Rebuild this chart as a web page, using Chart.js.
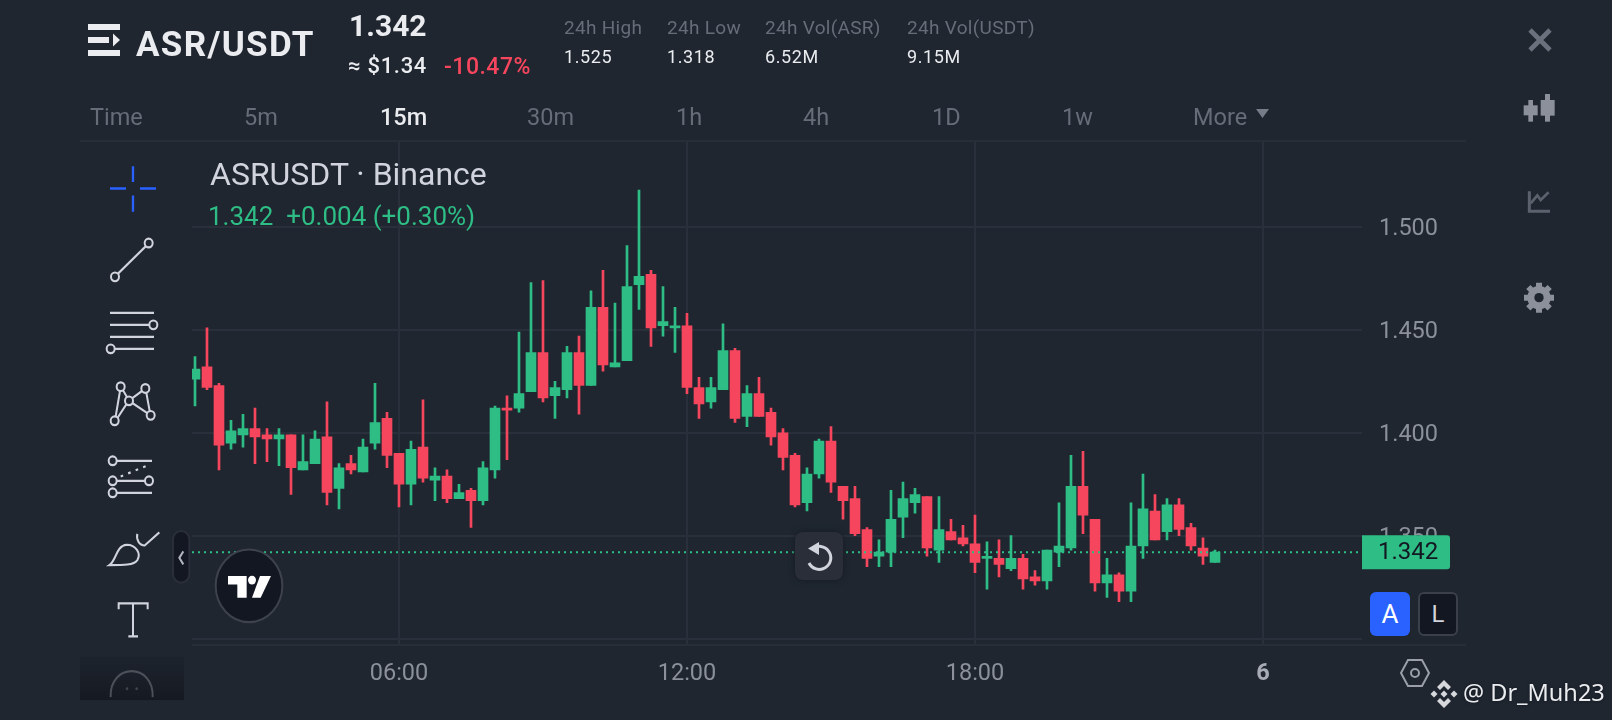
<!DOCTYPE html>
<html>
<head>
<meta charset="utf-8">
<title>ASR/USDT</title>
<script src="https://cdn.jsdelivr.net/npm/chart.js@4"></script>
<style>
  html, body { margin: 0; padding: 0; background: #1f2630; }
  body { width: 1612px; height: 720px; position: relative; overflow: hidden; font-family: Roboto, sans-serif; }
  #chart { position: absolute; left: 0; top: 0; width: 1612px; height: 720px; }
  .t { position: absolute; white-space: nowrap; line-height: 1; }
  .label { font-size: 19px; color: #666d79; letter-spacing: 0.3px; }
  .val { font-size: 18px; color: #eaecef; letter-spacing: 0.6px; }
  .tab { font-size: 23.5px; color: #666d79; top: 106px; }
  svg.layer { position: absolute; overflow: visible; }
  .rule { position: absolute; height: 2px; background: #282e38; }
</style>
</head>
<body>
<canvas id="chart" width="1612" height="720"></canvas>

<div class="rule" style="left:80px;width:1386px;top:140px"></div>
<div class="rule" style="left:192px;width:1274px;top:644px"></div>

<!-- header -->
<svg class="layer" style="left:88px;top:24px" width="32" height="32" viewBox="0 0 32 32">
  <rect x="0" y="0" width="32" height="6" fill="#eaecef"/>
  <rect x="0" y="13" width="21" height="6" fill="#eaecef"/>
  <polygon points="25,9.5 32,16 25,22.5" fill="#eaecef"/>
  <rect x="0" y="26" width="32" height="6" fill="#eaecef"/>
</svg>
<div class="t" style="left:136px;top:27px;font-size:35px;font-weight:700;letter-spacing:1.3px;color:#eaecef">ASR/USDT</div>
<div class="t" style="left:349px;top:11px;font-size:30px;font-weight:700;color:#eaecef">1.342</div>
<div class="t" style="left:348px;top:55px;font-size:22px;font-weight:500;letter-spacing:0.7px;color:#eaecef">≈ $1.34</div>
<div class="t" style="left:444px;top:55px;font-size:23px;font-weight:500;letter-spacing:0.5px;color:#f6465d">-10.47%</div>
<div class="t label" style="left:564px;top:18px">24h High</div>
<div class="t val" style="left:564px;top:48px">1.525</div>
<div class="t label" style="left:667px;top:18px">24h Low</div>
<div class="t val" style="left:667px;top:48px">1.318</div>
<div class="t label" style="left:765px;top:18px">24h Vol(ASR)</div>
<div class="t val" style="left:765px;top:48px">6.52M</div>
<div class="t label" style="left:907px;top:18px">24h Vol(USDT)</div>
<div class="t val" style="left:907px;top:48px">9.15M</div>

<!-- interval tabs -->
<div class="t tab" style="left:90px">Time</div>
<div class="t tab" style="left:244px">5m</div>
<div class="t tab" style="left:380px;color:#eaecef;font-weight:500">15m</div>
<div class="t tab" style="left:527px">30m</div>
<div class="t tab" style="left:676px">1h</div>
<div class="t tab" style="left:803px">4h</div>
<div class="t tab" style="left:932px">1D</div>
<div class="t tab" style="left:1062px">1w</div>
<div class="t tab" style="left:1193px">More</div>
<svg class="layer" style="left:1256px;top:109px" width="14" height="10"><polygon points="0,0 13,0 6.5,9" fill="#767c88"/></svg>

<!-- chart legend -->
<div class="t" style="left:210px;top:158px;font-size:32px;color:#d1d4dc">ASRUSDT · Binance</div>
<div class="t" style="left:208px;top:203px;font-size:26px;color:#2ebd85">1.342&nbsp; +0.004 (+0.30%)</div>

<!-- drawing tools, traced from a crop of 660x1568 -->
<svg class="layer" style="left:80px;top:150px" width="220" height="570" viewBox="0 0 660 1568" preserveAspectRatio="none" fill="none" stroke="#d1d4dc" stroke-width="6">
  <defs>
    <linearGradient id="fade" x1="0" y1="0" x2="0" y2="1">
      <stop offset="0" stop-color="#1d232d"/><stop offset="1" stop-color="#151a22"/>
    </linearGradient>
  </defs>
  <g stroke="#2962ff" stroke-width="7">
    <path d="M90 106H138M180 106H228M159 45V88M159 125V170"/>
  </g>
  <circle cx="206" cy="256" r="12"/><circle cx="105" cy="349" r="12"/><path d="M114 340L197 265"/>
  <path d="M90 448H222M90 481H208M90 514H222M105 547H222"/><circle cx="220" cy="481" r="12"/><circle cx="92" cy="547" r="12"/>
  <circle cx="122" cy="651" r="12"/><circle cx="196" cy="656" r="12"/><circle cx="147" cy="690" r="12"/><circle cx="104" cy="745" r="12"/><circle cx="212" cy="730" r="12"/>
  <path d="M120 663L107 733M129 661L141 680M156 683L186 663M199 668L209 718M157 696L202 724M139 700L113 736"/>
  <path d="M110 855H216M110 910H195M110 943H216"/><circle cx="98" cy="855" r="12"/><circle cx="98" cy="910" r="12"/><circle cx="207" cy="910" r="12"/><circle cx="98" cy="943" r="12"/>
  <path d="M122 898L210 865" stroke-dasharray="8 16"/>
  <path d="M88 1142C110 1128 108 1088 140 1086C168 1086 184 1110 172 1128C162 1142 130 1142 88 1142Z"/>
  <path d="M172 1056C168 1072 178 1088 194 1088L238 1052"/>
  <path d="M116 1263V1247H203V1263M159 1247V1338M145 1338H174"/>
  <rect x="0" y="1395" width="312" height="118" fill="url(#fade)" stroke="none"/>
  <path d="M92 1505C88 1410 222 1410 218 1505" stroke="#4b5059"/>
  <circle cx="141" cy="1482" r="4" fill="#3f444d" stroke="none"/><circle cx="170" cy="1482" r="4" fill="#3f444d" stroke="none"/>
  <rect x="279" y="1048" width="49" height="142" rx="24" fill="#131722" stroke="#2a2e39"/>
  <path d="M310 1104L298 1122L310 1140" stroke="#b2b5be"/>
  <circle cx="507" cy="1199" r="100" fill="#131722" stroke="#3d424c"/>
  <path d="M444 1172H500V1232H472V1195H444Z" fill="#fff" stroke="none"/>
  <circle cx="516" cy="1183" r="12" fill="#fff" stroke="none"/>
  <path d="M540 1172H573L542 1232H516Z" fill="#fff" stroke="none"/>
</svg>

<!-- right side icons, coordinates are 3x the page -->
<svg class="layer" style="left:1480px;top:0" width="132" height="340" viewBox="0 0 396 1020" fill="none">
  <path d="M150 90L210 150M210 90L150 150" stroke="#6c727d" stroke-width="14"/>
  <g fill="#8b909a">
    <rect x="131" y="316" width="42" height="30"/><rect x="145" y="300" width="14" height="65"/>
    <rect x="182" y="300" width="42" height="47"/><rect x="195" y="282" width="15" height="83"/>
  </g>
  <path d="M148 574V634H210" stroke="#5c626d" stroke-width="9"/>
  <path d="M152 610L172 586L182 600L206 577" stroke="#5c626d" stroke-width="8"/>
  <path d="M177 848V938M132 893H222M145 861L209 925M209 861L145 925" stroke="#8b909a" stroke-width="18"/>
  <circle cx="177" cy="893" r="24" stroke="#8b909a" stroke-width="22"/>
  <circle cx="177" cy="893" r="14" fill="#1f2630"/>
</svg>

<!-- reset button -->
<div style="position:absolute;left:795px;top:532px;width:48px;height:48px;border-radius:8px;background:#2a2e39;box-shadow:0 0 6px #171b22"></div>
<svg class="layer" style="left:795px;top:532px" width="48" height="48" viewBox="0 0 48 48" fill="none">
  <path d="M17 17A11.5 11.5 0 1 1 14 31" stroke="#d1d4dc" stroke-width="3"/>
  <polygon points="24,10 24,23 13,16.5" fill="#d1d4dc"/>
</svg>

<!-- auto / log buttons -->
<div class="t" style="left:1370px;top:592px;width:40px;height:44px;line-height:44px;text-align:center;border-radius:6px;background:#2962ff;color:#fff;font-size:26px">A</div>
<div class="t" style="left:1418px;top:592px;width:36px;height:40px;line-height:40px;text-align:center;border-radius:6px;background:#131722;border:2px solid #3a3f4a;color:#d1d4dc;font-size:24px">L</div>
<svg class="layer" style="left:1400px;top:659px" width="30" height="28" viewBox="0 0 30 28" fill="none" stroke="#9a9fa9" stroke-width="2">
  <polygon points="8,1 22,1 29,14 22,27 8,27 1,14"/><circle cx="15" cy="14" r="4"/>
</svg>

<!-- watermark -->
<svg class="layer" style="left:1430px;top:680px" width="28" height="28" viewBox="0 0 28 28" fill="#d6d8dc">
  <polygon points="14,0 21,7 18,10 14,6 10,10 7,7"/>
  <polygon points="4,10.5 7.5,14 4,17.5 0.5,14"/><polygon points="24,10.5 27.5,14 24,17.5 20.5,14"/>
  <polygon points="14,10.5 17.5,14 14,17.5 10.5,14"/>
  <polygon points="14,28 7,21 10,18 14,22 18,18 21,21"/>
</svg>
<div class="t" style="left:1463px;top:681px;font-size:23.5px;color:#eaecef;font-family:'Noto Sans',sans-serif;text-shadow:0 0 3px #12161c">@ Dr_Muh23</div>

<script>
// 15 minute candles
const times = ['01:45','02:00','02:15','02:30','02:45','03:00','03:15','03:30','03:45','04:00','04:15','04:30','04:45','05:00','05:15','05:30','05:45','06:00','06:15','06:30','06:45','07:00','07:15','07:30','07:45','08:00','08:15','08:30','08:45','09:00','09:15','09:30','09:45','10:00','10:15','10:30','10:45','11:00','11:15','11:30','11:45','12:00','12:15','12:30','12:45','13:00','13:15','13:30','13:45','14:00','14:15','14:30','14:45','15:00','15:15','15:30','15:45','16:00','16:15','16:30','16:45','17:00','17:15','17:30','17:45','18:00','18:15','18:30','18:45','19:00','19:15','19:30','19:45','20:00','20:15','20:30','20:45','21:00','21:15','21:30','21:45','22:00','22:15','22:30','22:45','23:00'];
const opens = [1.426,1.432,1.423,1.395,1.399,1.402,1.399,1.397,1.399,1.382,1.385,1.398,1.373,1.385,1.381,1.395,1.407,1.390,1.375,1.393,1.377,1.379,1.368,1.372,1.367,1.382,1.412,1.412,1.420,1.439,1.418,1.421,1.439,1.423,1.461,1.432,1.435,1.472,1.477,1.452,1.451,1.452,1.422,1.415,1.421,1.440,1.408,1.419,1.410,1.400,1.389,1.366,1.380,1.396,1.374,1.368,1.353,1.340,1.342,1.359,1.366,1.369,1.343,1.352,1.349,1.346,1.339,1.339,1.334,1.339,1.330,1.328,1.342,1.344,1.374,1.358,1.327,1.331,1.323,1.345,1.362,1.352,1.365,1.354,1.344,1.337];
const highs = [1.437,1.451,1.424,1.406,1.409,1.412,1.402,1.402,1.399,1.399,1.401,1.415,1.385,1.389,1.397,1.424,1.410,1.390,1.396,1.416,1.383,1.382,1.375,1.373,1.386,1.413,1.418,1.449,1.473,1.474,1.425,1.442,1.447,1.469,1.479,1.463,1.491,1.518,1.479,1.471,1.461,1.458,1.427,1.427,1.453,1.441,1.423,1.427,1.412,1.402,1.390,1.383,1.397,1.403,1.374,1.374,1.354,1.348,1.372,1.376,1.373,1.369,1.369,1.358,1.355,1.360,1.347,1.348,1.350,1.341,1.333,1.343,1.366,1.389,1.391,1.358,1.339,1.332,1.366,1.380,1.370,1.368,1.368,1.356,1.349,1.343];
const lows = [1.413,1.421,1.382,1.392,1.393,1.385,1.386,1.384,1.370,1.382,1.385,1.365,1.363,1.380,1.381,1.392,1.383,1.364,1.365,1.376,1.367,1.366,1.368,1.354,1.365,1.378,1.387,1.410,1.420,1.415,1.407,1.417,1.409,1.423,1.430,1.432,1.435,1.460,1.442,1.447,1.439,1.419,1.407,1.412,1.421,1.405,1.403,1.408,1.394,1.382,1.364,1.362,1.378,1.371,1.358,1.350,1.335,1.335,1.335,1.349,1.361,1.340,1.337,1.348,1.345,1.332,1.324,1.330,1.333,1.324,1.326,1.324,1.335,1.343,1.351,1.323,1.320,1.318,1.318,1.339,1.348,1.348,1.350,1.343,1.336,1.337];
const closes = [1.431,1.422,1.394,1.401,1.402,1.398,1.397,1.399,1.383,1.386,1.397,1.371,1.383,1.382,1.393,1.405,1.389,1.375,1.392,1.378,1.379,1.368,1.371,1.367,1.383,1.412,1.411,1.419,1.439,1.417,1.422,1.439,1.423,1.461,1.433,1.434,1.471,1.476,1.451,1.454,1.452,1.422,1.414,1.422,1.440,1.407,1.419,1.408,1.398,1.388,1.365,1.380,1.396,1.376,1.367,1.351,1.339,1.342,1.358,1.368,1.370,1.344,1.353,1.348,1.346,1.337,1.340,1.336,1.339,1.329,1.328,1.343,1.345,1.374,1.360,1.327,1.331,1.323,1.345,1.363,1.348,1.365,1.353,1.345,1.340,1.342];
const lastPrice = 1.342;
const priceTicks = [1.30, 1.35, 1.40, 1.45, 1.50];
const timeTicks = ['06:00', '12:00', '18:00', '6'];

const UP = '#2ebd85';
const DOWN = '#f6465d';
const GRID = '#2a303b';
const AXIS_TEXT = '#8b909b';

// x axis is hours since midnight
const hours = times.map(t => Number(t.slice(0, 2)) + Number(t.slice(3)) / 60);
const X_MIN = 1.6875;
const X_MAX = 26.0625;

const candleColor = closes.map((c, i) => (c >= opens[i] ? UP : DOWN));

// last price tag sits over the y axis labels
const priceTag = {
  id: 'priceTag',
  afterDraw(chart) {
    const ctx = chart.ctx;
    const y = chart.scales.y.getPixelForValue(lastPrice);
    const x = chart.chartArea.right;
    ctx.save();
    ctx.fillStyle = UP;
    ctx.beginPath();
    ctx.roundRect(x, y - 17, 88, 34, [0, 3, 3, 0]);
    ctx.fill();
    ctx.fillStyle = '#131722';
    ctx.font = '24px Roboto';
    ctx.textAlign = 'left';
    ctx.textBaseline = 'middle';
    ctx.fillText(lastPrice.toFixed(3), x + 16, y + 1);
    ctx.restore();
  }
};

new Chart(document.getElementById('chart'), {
  type: 'bar',
  plugins: [priceTag],
  data: {
    datasets: [
      {
        type: 'line',
        data: [{ x: X_MIN, y: lastPrice }, { x: X_MAX, y: lastPrice }],
        borderColor: UP,
        borderWidth: 2,
        borderDash: [2, 4],
        pointRadius: 0,
        order: 1
      },
      {
        label: 'body',
        data: hours.map((h, i) => ({ x: h, y: [opens[i], closes[i]] })),
        backgroundColor: candleColor,
        barThickness: 10,
        grouped: false,
        order: 2
      },
      {
        label: 'wick',
        data: hours.map((h, i) => ({ x: h, y: [lows[i], highs[i]] })),
        backgroundColor: candleColor,
        barThickness: 2,
        grouped: false,
        order: 3
      }
    ]
  },
  options: {
    responsive: false,
    animation: false,
    devicePixelRatio: 1,
    layout: { padding: { left: 192, top: 141, right: 0, bottom: 0 } },
    plugins: { legend: { display: false }, tooltip: { enabled: false } },
    scales: {
      x: {
        type: 'linear',
        offset: false,
        min: X_MIN,
        max: X_MAX,
        grid: { color: GRID, lineWidth: 2, drawTicks: false, offset: false },
        border: { display: false },
        afterBuildTicks: scale => { scale.ticks = timeTicks.map((t, i) => ({ value: (i + 1) * 6 })); },
        afterFit: scale => { scale.height = 75.5; },
        ticks: {
          autoSkip: false,
          maxRotation: 0,
          padding: 16,
          color: ctx => (ctx.index === 3 ? '#a6abb5' : AXIS_TEXT),
          font: ctx => (ctx.index === 3 ? { family: 'Roboto', size: 23.5, weight: '700' } : { family: 'Roboto', size: 23.5 }),
          callback: (value, index) => timeTicks[index]
        }
      },
      y: {
        position: 'right',
        min: 1.29713,
        max: 1.54179,
        grid: { color: GRID, lineWidth: 2, drawTicks: false },
        border: { display: false },
        afterBuildTicks: scale => { scale.ticks = priceTicks.map(v => ({ value: v })); },
        afterFit: scale => { scale.width = 250; },
        ticks: {
          padding: 17,
          labelOffset: 2,
          color: AXIS_TEXT,
          font: { family: 'Roboto', size: 23.5 },
          // the 1.300 label is not shown, only its grid line
          callback: value => (value < 1.32 ? '' : value.toFixed(3))
        }
      }
    }
  }
});
</script>
</body>
</html>
